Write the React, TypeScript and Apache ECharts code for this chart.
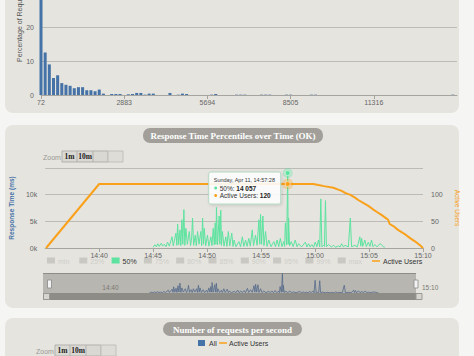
import React, { useEffect, useRef } from 'react';
import * as echarts from 'echarts';

// ---------- Panel 1: response time distribution (percentage of requests per bin) ----------
const histTickLabels = ['72', '2883', '5694', '8505', '11316'];
const histPercent = [
  38, 12.5, 9.0, 5.0, 5.8, 3.5, 3.0, 2.7, 2.0, 2.3,
  2.3, 1.4, 1.4, 1.1, 1.6, 0.4, 0, 0.3, 0.3, 0.3,
  0, 0.2, 0.3, 0.6, 0.6, 0.1, 0.4, 0.4, 0, 0,
  0, 0.6, 0, 0.1, 0.4, 0.3, 0, 0, 0, 0,
  0, 0.1, 0.3, 0, 0, 0, 0, 0.1, 0.1, 0.1,
  0, 0, 0, 0.1, 0.1, 0.1, 0, 0, 0, 0.1,
  0.1, 0, 0, 0, 0, 0.1, 0.1, 0, 0, 0,
  0, 0, 0, 0, 0, 0, 0, 0, 0, 0,
  0, 0, 0, 0, 0, 0, 0, 0, 0, 0,
  0, 0, 0, 0, 0, 0, 0, 0, 0, 0.1,
];

// ---------- Panel 2: response time percentiles over time ----------
// x values are seconds after 14:40:00
const timeTickLabels = ['14:35', '14:40', '14:45', '14:50', '14:55', '15:00', '15:05', '15:10'];
const respTickLabels = ['0k', '5k', '10k', '15k'];
const usersTickLabels = ['0', '50', '100', '150'];
const legendNames = ['min', '25%', '50%', '75%', '80%', '85%', '90%', '95%', '99%', 'max'];
const activeLegend = '50%';

const p50Series: [number, number][] = [
  [300, 150], [310, 600], [318, 250], [326, 800], [334, 300], [345, 900], [353, 350], [362, 700],
  [372, 250], [380, 1100], [390, 350], [398, 1300], [405, 2100], [412, 400], [420, 1700], [427, 2800],
  [432, 500], [436, 4500], [442, 600], [449, 3400], [454, 450], [460, 5300], [465, 700], [471, 7200],
  [476, 500], [482, 3700], [490, 700], [501, 3100], [508, 450], [514, 1900], [519, 5600], [525, 500],
  [534, 2400], [540, 400], [547, 3100], [555, 700], [565, 3100], [570, 450], [575, 5600], [580, 700],
  [584, 3700], [592, 400], [602, 2400], [610, 350], [621, 2100], [627, 450], [634, 3700], [640, 600],
  [645, 4700], [649, 700], [652, 7600], [658, 600], [667, 6000], [671, 700], [676, 7100], [680, 500],
  [685, 3100], [694, 350], [704, 2100], [710, 300], [718, 3100], [726, 400], [737, 2800], [744, 300],
  [750, 1500], [760, 250], [777, 1200], [786, 250], [796, 2100], [804, 300], [814, 1500], [822, 300],
  [832, 1800], [840, 350], [851, 3400], [858, 450], [869, 2400], [878, 500], [888, 5300], [893, 700],
  [897, 6300], [903, 700], [910, 6000], [916, 450], [925, 3100], [933, 300], [943, 1500], [955, 250],
  [971, 1200], [980, 250], [989, 1500], [998, 250], [1007, 1800], [1016, 250], [1026, 1200], [1031, 300],
  [1035, 4700], [1042, 600], [1048, 14057], [1051, 700], [1053, 5600], [1058, 400], [1068, 1200],
  [1078, 250], [1090, 1500], [1100, 250], [1109, 800], [1125, 200], [1146, 1100], [1155, 200],
  [1164, 800], [1173, 200], [1182, 650], [1192, 150], [1201, 1100], [1210, 250], [1219, 1500],
  [1226, 200], [1232, 9200], [1238, 250], [1247, 500], [1252, 300], [1258, 8900], [1263, 250],
  [1275, 650], [1290, 200], [1302, 500], [1315, 150], [1330, 400], [1340, 200], [1348, 800],
  [1358, 200], [1367, 500], [1385, 200], [1396, 5600], [1403, 250], [1422, 500], [1435, 200],
  [1449, 2100], [1454, 350], [1459, 1800], [1465, 300], [1477, 1500], [1485, 250], [1496, 1100],
  [1505, 300], [1514, 1500], [1522, 250], [1532, 650], [1545, 200], [1560, 800], [1569, 650],
  [1580, 200], [1588, 150],
];

const activeUsers: [number, number][] = [
  [-295, 0], [0, 120], [1190, 120], [1219, 118], [1250, 116], [1302, 113], [1325, 110], [1348, 107],
  [1370, 103], [1394, 100], [1420, 95], [1440, 90], [1470, 84], [1496, 79], [1520, 73], [1542, 68],
  [1569, 62], [1590, 57], [1606, 53], [1615, 45], [1640, 40], [1661, 34], [1685, 29], [1707, 24],
  [1730, 18], [1753, 13], [1780, 6], [1800, 0],
];

// hovered point shown in the tooltip
const tipSec = 1048;
const tipDate = 'Sunday, Apr 11, 14:57:28';
const tipP50 = 14057;
const tipUsers = 120;

const PANEL = '#e5e4df';
const TITLE_BG = '#a29f9a';
const GREEN = '#5de39f';
const ORANGE = '#f9a11b';
const BLUE = '#4572A7';
const GRID = '#bdbbb6';
const AXIS = '#a6a49f';
const SANS = 'Liberation Sans';
const SERIF = 'Liberation Serif';

const fmtThousands = (v: number) => String(v).replace(/\B(?=(\d{3})+(?!\d))/g, ' ');

function zoomButtons(x: number, y: number) {
  const els: any[] = [
    { type: 'text', x: x - 19, y: y + 6, style: { text: 'Zoom', fill: '#9a9893', fontSize: 7, fontFamily: SANS, verticalAlign: 'middle' } },
    { type: 'rect', shape: { x, y, width: 46, height: 11 }, style: { fill: '#d9d8d3', stroke: '#b3b1ac', lineWidth: 1 } },
    { type: 'line', shape: { x1: x + 15, y1: y, x2: x + 15, y2: y + 11 }, style: { stroke: '#b3b1ac', lineWidth: 1 } },
    { type: 'line', shape: { x1: x + 31, y1: y, x2: x + 31, y2: y + 11 }, style: { stroke: '#b3b1ac', lineWidth: 1 } },
    { type: 'rect', shape: { x: x + 46, y, width: 15, height: 11 }, style: { fill: '#dddcd7', stroke: '#c2c0bb', lineWidth: 1 } },
    { type: 'text', x: x + 7.5, y: y + 5.7, style: { text: '1m', fill: '#222', fontSize: 7.5, fontWeight: 'bold', fontFamily: SERIF, align: 'center', verticalAlign: 'middle' } },
    { type: 'text', x: x + 23, y: y + 5.7, style: { text: '10m', fill: '#222', fontSize: 7.5, fontWeight: 'bold', fontFamily: SERIF, align: 'center', verticalAlign: 'middle' } },
  ];
  return els;
}

function baseGraphics() {
  const els: any[] = [
    // panels
    { type: 'rect', z: -10, shape: { x: 5, y: -20, width: 454, height: 133, r: 8 }, style: { fill: PANEL } },
    { type: 'rect', z: -10, shape: { x: 5, y: 125, width: 454, height: 183, r: 8 }, style: { fill: PANEL } },
    { type: 'rect', z: -10, shape: { x: 5, y: 318, width: 454, height: 60, r: 8 }, style: { fill: PANEL } },
    // panel 1 y title
    { type: 'text', x: 19, y: 62, rotation: Math.PI / 2, style: { text: 'Percentage of Requests', fill: '#555', fontSize: 7, fontFamily: SANS, align: 'left', verticalAlign: 'middle' } },
    // panel 2 title
    { type: 'rect', shape: { x: 143, y: 128, width: 180, height: 15, r: 7 }, style: { fill: TITLE_BG } },
    { type: 'text', x: 233, y: 135.8, style: { text: 'Response Time Percentiles over Time (OK)', fill: '#fff', fontSize: 9, fontWeight: 'bold', fontFamily: SERIF, align: 'center', verticalAlign: 'middle' } },
    ...zoomButtons(62, 151),
    // navigator
    { type: 'rect', z: -5, shape: { x: 43, y: 273, width: 373, height: 20 }, style: { fill: '#b8b6b1' } },
    { type: 'line', shape: { x1: 43, y1: 273.5, x2: 416, y2: 273.5 }, style: { stroke: '#8e8c87', lineWidth: 1 } },
    { type: 'rect', shape: { x: 43, y: 293, width: 379, height: 7 }, style: { fill: '#8e8c87' } },
    { type: 'rect', shape: { x: 43.5, y: 293.5, width: 6, height: 6 }, style: { fill: '#d6d5d0', stroke: '#9a9893', lineWidth: 1 } },
    { type: 'rect', shape: { x: 416, y: 293.5, width: 6, height: 6 }, style: { fill: '#d6d5d0', stroke: '#9a9893', lineWidth: 1 } },
    { type: 'rect', shape: { x: 47.5, y: 280, width: 4, height: 8 }, style: { fill: '#f2f2f2', stroke: '#8a8a8a', lineWidth: 0.8 } },
    { type: 'rect', shape: { x: 414, y: 280, width: 4, height: 8 }, style: { fill: '#f2f2f2', stroke: '#8a8a8a', lineWidth: 0.8 } },
    // panel 3 title
    { type: 'rect', shape: { x: 163, y: 322, width: 139, height: 14, r: 7 }, style: { fill: TITLE_BG } },
    { type: 'text', x: 232.5, y: 329.5, style: { text: 'Number of requests per second', fill: '#fff', fontSize: 9, fontWeight: 'bold', fontFamily: SERIF, align: 'center', verticalAlign: 'middle' } },
    { type: 'rect', shape: { x: 198, y: 340, width: 7, height: 6 }, style: { fill: BLUE } },
    { type: 'text', x: 209, y: 343.3, style: { text: 'All', fill: '#333', fontSize: 7, fontFamily: SANS, verticalAlign: 'middle' } },
    { type: 'line', shape: { x1: 219, y1: 343, x2: 227, y2: 343 }, style: { stroke: ORANGE, lineWidth: 1.5 } },
    { type: 'text', x: 229, y: 343.3, style: { text: 'Active Users', fill: '#333', fontSize: 7, fontFamily: SANS, verticalAlign: 'middle' } },
    ...zoomButtons(55, 345),
  ];
  // panel 2 legend
  legendNames.forEach((name, i) => {
    const bx = 47 + i * 32.3;
    const on = name === activeLegend;
    els.push({ type: 'rect', shape: { x: bx, y: 257.5, width: 8, height: 6 }, style: { fill: on ? GREEN : '#c9c8c3' } });
    els.push({ type: 'text', x: bx + 11, y: 261, style: { text: name, fill: on ? '#333' : '#cfcec9', fontSize: 7, fontFamily: SANS, verticalAlign: 'middle' } });
  });
  els.push({ type: 'line', shape: { x1: 372, y1: 261, x2: 380, y2: 261 }, style: { stroke: ORANGE, lineWidth: 1.5 } });
  els.push({ type: 'text', x: 383, y: 261.3, style: { text: 'Active Users', fill: '#333', fontSize: 7, fontFamily: SANS, verticalAlign: 'middle' } });
  return els;
}

export default function App() {
  const ref = useRef<HTMLDivElement>(null);
  useEffect(() => {
    document.body.style.margin = '0';
    const chart = echarts.init(ref.current!, null, { renderer: 'svg' });
    const histCats = Array.from({ length: histPercent.length + 1 }, (_, i) => String(i));
    const labelFont = { fontSize: 7, color: '#666', fontFamily: SANS };
    const option: any = {
      animation: false,
      backgroundColor: '#f5f5f3',
      textStyle: { fontFamily: SANS },
      grid: [
        { left: 41, width: 416, top: 27, height: 68 },
        { left: 43, width: 380, top: 168, height: 80 },
        { left: 43, width: 373, top: 273, height: 20 },
      ],
      xAxis: [
        {
          gridIndex: 0, type: 'category', boundaryGap: false, data: histCats,
          axisLine: { lineStyle: { color: AXIS } },
          axisTick: { interval: (i: number) => i % 20 === 0 && i < histPercent.length, length: 4, lineStyle: { color: AXIS } },
          axisLabel: { ...labelFont, margin: 4, interval: (i: number) => i % 20 === 0 && i < histPercent.length, formatter: (v: string) => histTickLabels[Number(v) / 20] ?? '' },
          splitLine: { show: false },
        },
        {
          gridIndex: 1, type: 'value', min: -300, max: 1800, interval: 300,
          axisLine: { lineStyle: { color: AXIS } },
          axisTick: { length: 4, lineStyle: { color: AXIS } },
          axisLabel: { ...labelFont, margin: 4, showMinLabel: false, formatter: (v: number) => timeTickLabels[(v + 300) / 300] ?? '' },
          splitLine: { show: false },
        },
        {
          gridIndex: 2, type: 'value', min: -300, max: 1800, interval: 300,
          axisLine: { show: false }, axisTick: { show: false }, splitLine: { show: false },
          axisLabel: { inside: true, margin: 2, fontSize: 6.5, color: '#7a7873', fontFamily: SANS, align: 'left', padding: [0, 0, 0, 6], formatter: (v: number) => (v % 1800 === 0 ? timeTickLabels[(v + 300) / 300] : '') },
        },
      ],
      yAxis: [
        {
          gridIndex: 0, min: 0, max: 20, interval: 10,
          axisLine: { show: false }, axisTick: { show: false },
          axisLabel: { ...labelFont, margin: 7 },
          splitLine: { lineStyle: { color: GRID } },
        },
        {
          gridIndex: 1, min: 0, max: 15000, interval: 5000,
          name: 'Response Time (ms)', nameLocation: 'middle', nameGap: 25, nameRotate: 90,
          nameTextStyle: { color: BLUE, fontWeight: 'bold', fontSize: 6.5, fontFamily: SANS },
          axisLine: { show: false }, axisTick: { show: false },
          axisLabel: { ...labelFont, margin: 8, showMaxLabel: false, formatter: (v: number) => respTickLabels[v / 5000] },
          splitLine: { lineStyle: { color: GRID } },
        },
        {
          gridIndex: 1, position: 'right', min: 0, max: 150, interval: 50,
          name: 'Active Users', nameLocation: 'middle', nameGap: 24, nameRotate: -90,
          nameTextStyle: { color: ORANGE, fontSize: 6.5, fontFamily: SANS },
          axisLine: { show: false }, axisTick: { show: false },
          axisLabel: { ...labelFont, margin: 8, showMaxLabel: false, formatter: (v: number) => usersTickLabels[v / 50] },
          splitLine: { show: false },
        },
        { gridIndex: 2, min: 0, max: 14500, show: false },
      ],
      series: [
        { type: 'bar', xAxisIndex: 0, yAxisIndex: 0, data: histPercent, barWidth: 3, clip: false, itemStyle: { color: BLUE } },
        { type: 'line', name: '50%', xAxisIndex: 1, yAxisIndex: 1, data: p50Series, showSymbol: false, lineStyle: { width: 1, color: GREEN }, z: 3 },
        { type: 'line', name: 'Active Users', xAxisIndex: 1, yAxisIndex: 2, data: activeUsers, showSymbol: false, lineStyle: { width: 2, color: ORANGE }, z: 4 },
        { type: 'line', xAxisIndex: 2, yAxisIndex: 3, data: p50Series, showSymbol: false, lineStyle: { width: 0.8, color: '#566b8a' }, areaStyle: { color: 'rgba(69,114,167,0.12)' } },
      ],
      graphic: baseGraphics(),
    };
    chart.setOption(option);

    const pG = chart.convertToPixel({ xAxisIndex: 1, yAxisIndex: 1 } as any, [tipSec, tipP50]) as number[];
    const pU = chart.convertToPixel({ xAxisIndex: 1, yAxisIndex: 2 } as any, [tipSec, tipUsers]) as number[];
    const bx = pG[0] - 79;
    const by = pG[1] - 1;
    const tip: any[] = [
      { type: 'circle', z: 50, shape: { cx: pU[0], cy: pU[1], r: 5.5 }, style: { fill: 'rgba(249,161,27,0.3)' } },
      { type: 'circle', z: 51, shape: { cx: pU[0], cy: pU[1], r: 2.5 }, style: { fill: ORANGE, stroke: '#fff', lineWidth: 0.5 } },
      { type: 'circle', z: 50, shape: { cx: pG[0], cy: pG[1], r: 5 }, style: { fill: 'rgba(93,227,159,0.35)' } },
      { type: 'circle', z: 51, shape: { cx: pG[0], cy: pG[1], r: 2.5 }, style: { fill: GREEN, stroke: '#fff', lineWidth: 0.5 } },
      { type: 'rect', z: 60, shape: { x: bx, y: by, width: 72, height: 32, r: 2 }, style: { fill: 'rgba(255,255,255,0.88)', stroke: '#b5d9c4', lineWidth: 1, shadowBlur: 3, shadowColor: 'rgba(0,0,0,0.15)', shadowOffsetX: 1, shadowOffsetY: 1 } },
      { type: 'text', z: 61, x: bx + 5, y: by + 8, style: { text: tipDate, fill: '#333', fontSize: 5.5, fontFamily: SANS, verticalAlign: 'middle' } },
      { type: 'circle', z: 61, shape: { cx: bx + 7, cy: by + 16, r: 1.5 }, style: { fill: GREEN } },
      { type: 'text', z: 61, x: bx + 11, y: by + 16, style: { text: '50%: {b|' + fmtThousands(tipP50) + '}', fill: '#333', fontSize: 6.5, fontFamily: SANS, verticalAlign: 'middle', rich: { b: { fontWeight: 'bold', fontSize: 6.5, fontFamily: SANS, fill: '#222' } } } },
      { type: 'circle', z: 61, shape: { cx: bx + 7, cy: by + 23.5, r: 1.5 }, style: { fill: ORANGE } },
      { type: 'text', z: 61, x: bx + 11, y: by + 23.5, style: { text: 'Active Users: {b|' + tipUsers + '}', fill: '#333', fontSize: 6.5, fontFamily: SANS, verticalAlign: 'middle', rich: { b: { fontWeight: 'bold', fontSize: 6.5, fontFamily: SANS, fill: '#222' } } } },
    ];
    chart.setOption({ graphic: [...baseGraphics(), ...tip] });
    return () => chart.dispose();
  }, []);
  return <div ref={ref} style={{ width: 474, height: 356 }} />;
}
